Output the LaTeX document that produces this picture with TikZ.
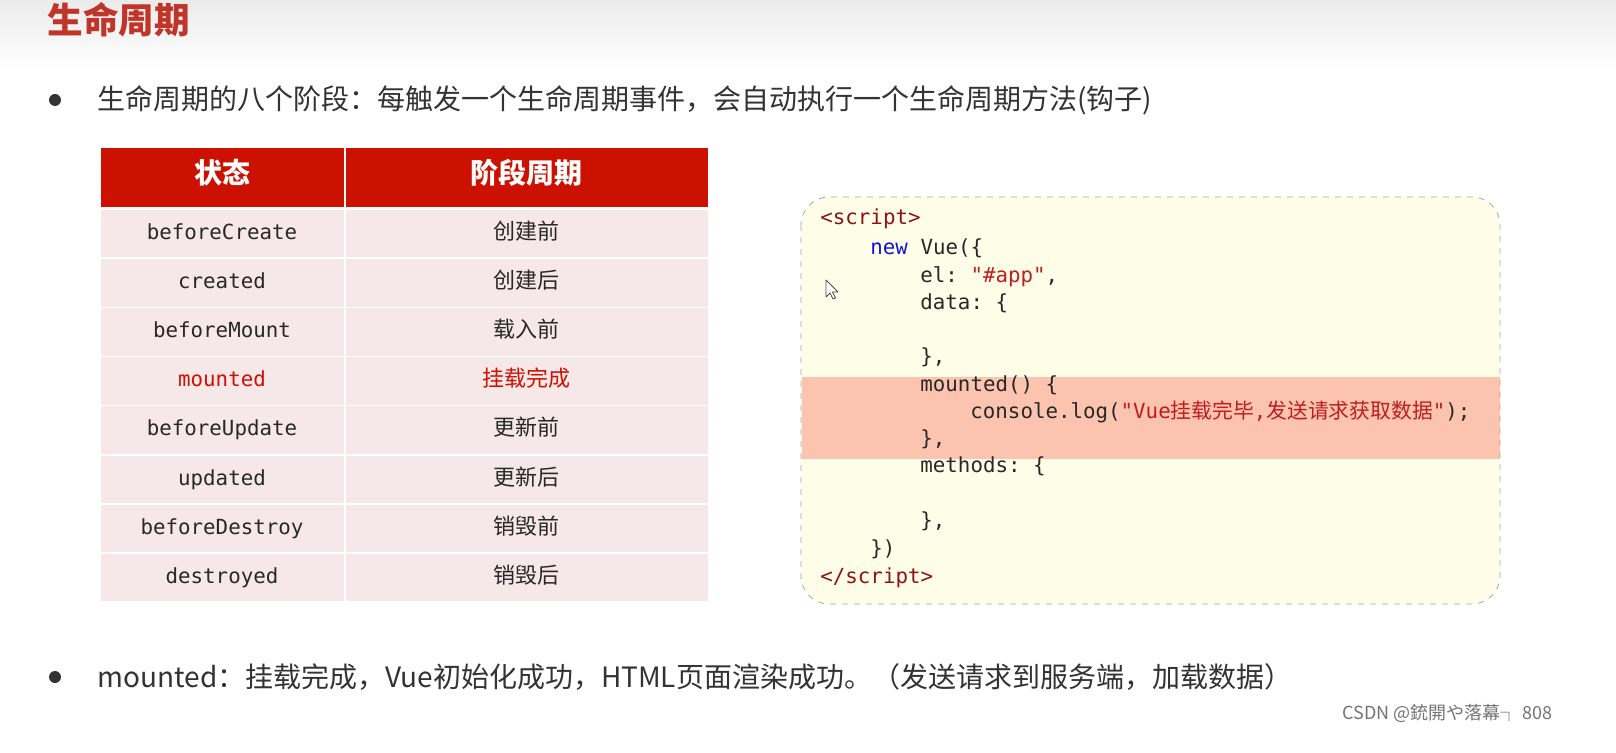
\documentclass[tikz,border=0pt]{standalone}
\usepackage{fontspec}
\setmainfont{Noto Sans CJK SC}
\setmonofont{DejaVu Sans Mono}
\newfontfamily\cjk{Noto Sans CJK SC}

\definecolor{titlered}{RGB}{193,52,40}
\definecolor{hdrred}{RGB}{204,17,0}
\definecolor{rowpink}{RGB}{246,231,233}
\definecolor{textgray}{RGB}{40,40,40}
\definecolor{bodygray}{RGB}{51,51,51}
\definecolor{codebg}{RGB}{254,253,232}
\definecolor{hilite}{RGB}{252,195,175}
\definecolor{tagred}{RGB}{140,20,20}
\definecolor{kwblue}{RGB}{20,20,210}
\definecolor{strred}{RGB}{190,30,30}

\begin{document}
\begin{tikzpicture}[x=0.5pt,y=-0.5pt,
    cell/.style={inner sep=0pt, text=textgray, text height=8pt, text depth=2.5pt},
    code/.style={anchor=west, inner sep=0pt, text=textgray, text height=8pt,
      text depth=2.5pt, font=\ttfamily\fontsize{10.4}{12}\selectfont},
    bullet/.style={anchor=west, inner sep=0pt, text=bodygray,
      font=\fontsize{14}{16}\selectfont}]
  \useasboundingbox (0,0) rectangle (1616,753);
  \shade[top color=black!8, bottom color=white] (0,0) rectangle (1616,70);

  % title and first bullet
  \node[anchor=west, inner sep=0pt, text=titlered,
    font=\bfseries\fontsize{17.8}{20}\selectfont] (title) at (47,20) {生命周期};
  \fill[bodygray] (55,100) circle (6);
  \node[bullet] (b1) at (97,100)
    {生命周期的八个阶段：每触发一个生命周期事件，会自动执行一个生命周期方法(钩子)};

  % table
  \fill[hdrred] (101,148) rectangle (343.5,207);
  \fill[hdrred] (345.5,148) rectangle (708,207);
  \node[cell, text=white, font=\bfseries\fontsize{14}{16}\selectfont]
    (h1) at (222,178) {状态};
  \node[cell, text=white, font=\bfseries\fontsize{14}{16}\selectfont]
    (h2) at (526,178) {阶段周期};
  \foreach \st/\ph/\tc [count=\i from 0] in {beforeCreate/创建前/textgray,
      created/创建后/textgray, beforeMount/载入前/textgray,
      mounted/挂载完成/hdrred, beforeUpdate/更新前/textgray,
      updated/更新后/textgray, beforeDestroy/销毁前/textgray,
      destroyed/销毁后/textgray}{
    \fill[rowpink] (101,210+49.1*\i) rectangle (343.5,257.5+49.1*\i);
    \fill[rowpink] (345.5,210+49.1*\i) rectangle (708,257.5+49.1*\i);
    \node[cell, text=\tc, font=\ttfamily\fontsize{10.4}{12}\selectfont]
      (s\i) at (222,234+49.1*\i) {\st};
    \node[cell, text=\tc, font=\fontsize{11}{13}\selectfont]
      (p\i) at (526,234+49.1*\i) {\ph};
  }

  % code box
  \fill[codebg, rounded corners=14] (801,197) rectangle (1500,604);
  \fill[hilite] (801.5,377) rectangle (1499.5,459);
  \draw[black!35, dashed, rounded corners=14] (801,197) rectangle (1500,604);
  \node[code] (c1) at (820,219) {\color{tagred}<script>};
  \node[code] (c2) at (870,249) {{\color{kwblue}new} Vue(\{};
  \node[code] (c3) at (920,277) {el: {\color{strred}"\#app"},};
  \node[code] (c4) at (920,304) {data: \{};
  \node[code] (c5) at (920,358) {\},};
  \node[code] (c6) at (920,386) {mounted() \{};
  \node[code] (c7) at (970,413)
    {console.log({\color{strred}"Vue{\cjk 挂载完毕},{\cjk 发送请求获取数据}"});};
  \node[code] (c8) at (920,440) {\},};
  \node[code] (c9) at (920,467) {methods: \{};
  \node[code] (c10) at (920,522) {\},};
  \node[code] (c11) at (870,550) {\})};
  \node[code] (c12) at (820,578) {\color{tagred}</script>};
  % mouse pointer
  \draw[black!70, fill=white, line join=round]
    (826,280) -- (826,297) -- (830,293) -- (833,299) -- (835.5,298)
    -- (832.5,292) -- (838,292) -- cycle;

  % second bullet and watermark
  \fill[bodygray] (55,677) circle (6);
  \node[bullet] (b2) at (97,677)
    {mounted：挂载完成，Vue初始化成功，HTML页面渲染成功。（发送请求到服务端，加载数据）};
  \node[anchor=east, inner sep=0pt, text=black!55, font=\fontsize{9}{11}\selectfont]
    (mark) at (1553,713) {CSDN @銃開や落幕┐ 808};
\end{tikzpicture}
\end{document}
